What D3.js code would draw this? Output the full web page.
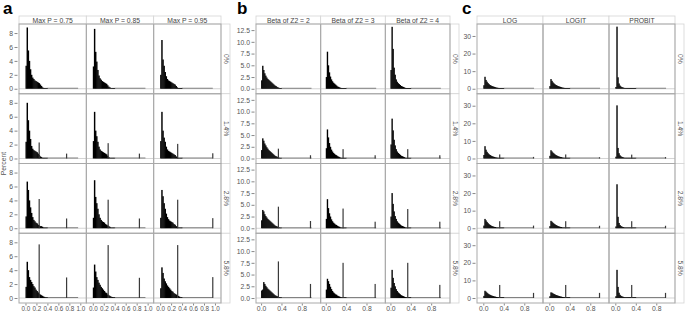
<!DOCTYPE html>
<html lang="en">
<head>
<meta charset="utf-8">
<title>Histograms</title>
<script src="https://cdn.jsdelivr.net/npm/d3@7"></script>
<style>
  html, body { margin: 0; padding: 0; background: #fff; }
  svg { font-family: "Liberation Sans", Arial, sans-serif; }
</style>
</head>
<body>
<script>
// ---- data ----
const rowLabels = ["0%", "1.4%", "2.8%", "5.8%"];
const colsA = ["Max P = 0.75", "Max P = 0.85", "Max P = 0.95"];
const colsB = ["Beta of Z2 = 2", "Beta of Z2 = 3", "Beta of Z2 = 4"];
const colsC = ["LOG", "LOGIT", "PROBIT"];
const binW = 0.02;

// bin heights (percent), bins of 0.02 starting at 0; [row][col]
const histA = [
  [[3.3, 8.8, 5.5, 4.0, 2.8, 2.0, 1.6, 1.4, 1.2, 1.1, 1.0, 0.9, 0.8, 0.6, 0.4, 0.2, 0.1, 0.05, 0.05, 0.05],
   [3.2, 8.6, 5.3, 3.9, 2.7, 1.9, 1.5, 1.3, 1.1, 1.0, 0.9, 0.8, 0.7, 0.5, 0.3, 0.2, 0.1, 0.05, 0.05, 0.05],
   [2.0, 7.0, 4.2, 3.3, 2.4, 1.8, 1.4, 1.2, 1.1, 1.0, 0.9, 0.8, 0.7, 0.6, 0.4, 0.2, 0.1, 0.05, 0.05, 0.05]],
  [[2.4, 8.0, 5.5, 4.0, 2.8, 1.8, 1.4, 1.2, 1.1, 1.0, 0.9, 0.7, 0.5, 0.3, 0.2, 0.1, 0.05, 0.05, 0.05, 0.05],
   [2.5, 6.7, 4.0, 3.2, 2.4, 1.7, 1.3, 1.1, 1.0, 0.9, 0.8, 0.7, 0.6, 0.4, 0.2, 0.1, 0.05, 0.05, 0.05, 0.05],
   [2.5, 6.7, 4.0, 3.0, 2.4, 1.7, 1.3, 1.1, 1.0, 0.9, 0.8, 0.7, 0.6, 0.5, 0.3, 0.2, 0.1, 0.05, 0.05, 0.05]],
  [[1.7, 6.7, 5.5, 4.0, 3.0, 2.2, 1.6, 1.2, 1.0, 0.8, 0.7, 0.5, 0.4, 0.3, 0.3, 0.2, 0.1, 0.05, 0.05, 0.05],
   [1.5, 6.9, 4.5, 3.6, 2.8, 2.0, 1.5, 1.2, 1.0, 0.9, 0.8, 0.6, 0.5, 0.4, 0.3, 0.2, 0.1, 0.05, 0.05, 0.05],
   [1.5, 5.5, 4.6, 3.6, 2.8, 2.1, 1.6, 1.3, 1.1, 1.0, 0.9, 0.8, 0.6, 0.5, 0.3, 0.2, 0.1, 0.05, 0.05, 0.05]],
  [[1.6, 5.2, 4.0, 3.0, 2.6, 2.3, 2.0, 1.7, 1.5, 1.2, 1.0, 0.8, 0.6, 0.5, 0.4, 0.3, 0.2, 0.15, 0.1, 0.1],
   [1.5, 4.8, 3.8, 3.0, 2.6, 2.2, 1.9, 1.6, 1.4, 1.2, 1.0, 0.8, 0.7, 0.5, 0.4, 0.3, 0.2, 0.15, 0.1, 0.1],
   [1.4, 4.4, 3.6, 2.8, 2.4, 2.1, 1.8, 1.6, 1.4, 1.2, 1.0, 0.9, 0.7, 0.6, 0.5, 0.4, 0.3, 0.2, 0.1, 0.1]]
];
const spikePosA = [[0.25, 0.75], [0.28, 0.85], [0.32, 0.96]];
const spikeHA = [
  [[0, 0], [0, 0], [0, 0]],
  [[2.3, 0.7], [2.2, 0.7], [2.1, 0.75]],
  [[4.2, 1.4], [4.1, 1.4], [4.1, 1.45]],
  [[7.7, 2.95], [7.6, 2.9], [7.6, 3.0]]
];

const histB = [
  [[1.8, 4.9, 4.0, 3.3, 2.8, 2.4, 2.1, 1.9, 1.7, 1.5, 1.3, 1.1, 0.9, 0.7, 0.6, 0.4, 0.3, 0.2, 0.1, 0.05],
   [2.5, 7.9, 5.0, 3.5, 2.6, 2.0, 1.6, 1.3, 1.1, 0.9, 0.7, 0.5, 0.4, 0.3, 0.2, 0.1, 0.05, 0.05, 0.05, 0.05],
   [4.0, 13.2, 8.5, 4.5, 3.0, 2.0, 1.5, 1.2, 1.0, 0.8, 0.6, 0.5, 0.4, 0.3, 0.2, 0.1, 0.05, 0.05, 0.05, 0.05]],
  [[1.8, 4.3, 3.8, 3.2, 2.8, 2.4, 2.1, 1.8, 1.6, 1.4, 1.2, 1.0, 0.8, 0.6, 0.5, 0.4, 0.3, 0.2, 0.1, 0.05],
   [2.2, 6.2, 4.5, 3.3, 2.5, 1.9, 1.5, 1.2, 1.0, 0.8, 0.7, 0.5, 0.4, 0.3, 0.2, 0.1, 0.05, 0.05, 0.05, 0.05],
   [3.0, 8.5, 6.0, 4.0, 2.8, 2.0, 1.5, 1.2, 1.0, 0.8, 0.6, 0.5, 0.4, 0.3, 0.2, 0.1, 0.05, 0.05, 0.05, 0.05]],
  [[1.7, 3.9, 3.6, 3.0, 2.6, 2.3, 2.0, 1.8, 1.6, 1.4, 1.2, 1.0, 0.8, 0.6, 0.5, 0.4, 0.3, 0.2, 0.1, 0.05],
   [2.0, 6.2, 4.3, 3.2, 2.5, 1.9, 1.5, 1.2, 1.0, 0.8, 0.7, 0.5, 0.4, 0.3, 0.2, 0.1, 0.05, 0.05, 0.05, 0.05],
   [2.5, 7.5, 5.2, 3.6, 2.6, 2.0, 1.5, 1.2, 1.0, 0.8, 0.6, 0.5, 0.4, 0.3, 0.2, 0.1, 0.05, 0.05, 0.05, 0.05]],
  [[1.6, 1.8, 3.4, 3.0, 2.6, 2.3, 2.0, 1.8, 1.6, 1.4, 1.2, 1.0, 0.8, 0.6, 0.5, 0.4, 0.3, 0.2, 0.1, 0.05],
   [1.8, 4.1, 3.6, 3.0, 2.4, 1.9, 1.5, 1.2, 1.0, 0.8, 0.7, 0.5, 0.4, 0.3, 0.2, 0.1, 0.05, 0.05, 0.05, 0.05],
   [2.2, 6.0, 4.3, 3.2, 2.5, 1.9, 1.5, 1.2, 1.0, 0.8, 0.6, 0.5, 0.4, 0.3, 0.2, 0.1, 0.05, 0.05, 0.05, 0.05]]
];
const spikePosB = [[0.34, 0.97], [0.34, 0.97], [0.34, 0.97]];
const spikeHB = [
  [[0, 0], [0, 0], [0, 0]],
  [[2.1, 0.7], [2.0, 0.7], [2.0, 0.7]],
  [[4.6, 1.55], [4.2, 1.4], [4.1, 1.4]],
  [[7.8, 3.0], [7.5, 3.0], [7.5, 2.8]]
];

const histC = [
  [[2.0, 6.8, 5.0, 4.0, 3.2, 2.6, 2.1, 1.8, 1.5, 1.3, 1.1, 0.9, 0.7, 0.6, 0.5, 0.4, 0.3, 0.2, 0.1, 0.05],
   [1.5, 5.5, 4.5, 3.6, 3.0, 2.5, 2.1, 1.8, 1.5, 1.3, 1.1, 0.9, 0.7, 0.6, 0.5, 0.4, 0.3, 0.2, 0.1, 0.05],
   [1.0, 35.3, 6.5, 3.0, 1.8, 1.2, 0.9, 0.7, 0.5, 0.4, 0.3, 0.2, 0.15, 0.1, 0.05, 0.05, 0.05, 0.05, 0.05, 0.05]],
  [[2.0, 7.0, 5.0, 3.8, 3.0, 2.4, 2.0, 1.6, 1.3, 1.1, 0.9, 0.7, 0.6, 0.5, 0.4, 0.3, 0.2, 0.1, 0.05, 0.05],
   [1.5, 4.7, 4.0, 3.3, 2.8, 2.3, 1.9, 1.6, 1.3, 1.1, 0.9, 0.8, 0.6, 0.5, 0.4, 0.3, 0.2, 0.1, 0.05, 0.05],
   [1.0, 30.2, 6.0, 3.0, 1.8, 1.2, 0.9, 0.7, 0.5, 0.4, 0.3, 0.2, 0.1, 0.05, 0.05, 0.05, 0.05, 0.05, 0.05, 0.05]],
  [[1.5, 5.3, 4.5, 3.6, 2.9, 2.3, 1.9, 1.5, 1.2, 1.0, 0.8, 0.7, 0.5, 0.4, 0.3, 0.2, 0.1, 0.1, 0.05, 0.05],
   [1.2, 4.2, 3.7, 3.1, 2.6, 2.2, 1.8, 1.5, 1.2, 1.0, 0.8, 0.7, 0.5, 0.4, 0.3, 0.2, 0.1, 0.1, 0.05, 0.05],
   [1.0, 25.0, 6.5, 3.0, 1.8, 1.2, 0.9, 0.7, 0.5, 0.4, 0.3, 0.2, 0.1, 0.05, 0.05, 0.05, 0.05, 0.05, 0.05, 0.05]],
  [[1.2, 4.1, 3.6, 3.0, 2.5, 2.1, 1.8, 1.5, 1.3, 1.1, 0.9, 0.8, 0.6, 0.5, 0.4, 0.3, 0.2, 0.1, 0.1, 0.05],
   [1.0, 3.2, 3.0, 2.6, 2.3, 2.0, 1.7, 1.5, 1.3, 1.1, 0.9, 0.8, 0.6, 0.5, 0.4, 0.3, 0.2, 0.1, 0.1, 0.05],
   [1.0, 16.0, 6.3, 3.0, 1.8, 1.2, 0.9, 0.7, 0.5, 0.4, 0.3, 0.2, 0.1, 0.05, 0.05, 0.05, 0.05, 0.05, 0.05, 0.05]]
];
const spikePosC = [[0.32, 0.98], [0.32, 0.98], [0.32, 0.98]];
const spikeHC = [
  [[0, 0], [0, 0], [0, 0]],
  [[2.3, 0.9], [2.3, 0.7], [2.2, 0.8]],
  [[4.0, 1.5], [4.0, 1.4], [4.0, 1.4]],
  [[7.4, 2.9], [7.4, 2.9], [7.4, 2.9]]
];

const tailEnd = [0.96, 0.99, 0.99];
const yTicksA = [0, 2, 4, 6, 8];
const yTicksB = [0, 2.5, 5, 7.5, 10, 12.5];
const yTicksC = [0, 10, 20, 30];
const xTicksA = [0, 0.2, 0.4, 0.6, 0.8, 1.0];
const xTicksBC = [0, 0.4, 0.8];

// ---- layout ----
const W = 685, H = 315;
const plotTop = 24, plotBottom = 303;
const rowH = (plotBottom - plotTop) / 4;
const frameCol = "#a9a9a9", textCol = "#555";
const fontFam = "Liberation Sans, Arial, sans-serif";

const svg = d3.select("body").append("svg")
  .attr("width", W).attr("height", H);

const panels = [
  { letter: "a", letterX: 3, left: 19, right: 221, cols: colsA, hist: histA,
    spikePos: spikePosA, spikeH: spikeHA, tail: tailEnd[0], xFont: 6.3,
    xDomain: [-0.118, 1.11], yDomain: [-0.72, 9.3], yTicks: yTicksA, yFmt: d3.format("d"), xTicks: xTicksA },
  { letter: "b", letterX: 237, left: 256, right: 450, cols: colsB, hist: histB,
    spikePos: spikePosB, spikeH: spikeHB, tail: tailEnd[1], xFont: 6.8,
    xDomain: [-0.1, 1.17], yDomain: [-1.06, 13.8], yTicks: yTicksB, yFmt: d3.format(".1f"), xTicks: xTicksBC },
  { letter: "c", letterX: 462, left: 477, right: 675, cols: colsC, hist: histC,
    spikePos: spikePosC, spikeH: spikeHC, tail: tailEnd[2], xFont: 6.8,
    xDomain: [-0.123, 1.165], yDomain: [-2.85, 36.8], yTicks: yTicksC, yFmt: d3.format("d"), xTicks: xTicksBC }
];

panels.forEach(p => {
  const g = svg.append("g");
  const colW = (p.right - p.left) / 3;

  g.append("text")
    .attr("x", p.letterX).attr("y", 14)
    .attr("font-size", 17).attr("font-weight", "bold")
    .attr("fill", "#000")
    .text(p.letter);

  // row strips on the right
  rowLabels.forEach((lab, r) => {
    const y0 = plotTop + r * rowH;
    g.append("rect")
      .attr("x", p.right).attr("y", y0)
      .attr("width", 9).attr("height", rowH)
      .attr("fill", "#fff").attr("stroke", "#d4d4d4").attr("stroke-width", 0.8);
    g.append("text")
      .attr("transform", `translate(${p.right + 2.5},${y0 + rowH / 2}) rotate(90)`)
      .attr("text-anchor", "middle")
      .attr("font-size", 6.8).attr("fill", textCol)
      .text(lab);
  });

  p.cols.forEach((name, c) => {
    const x0 = p.left + c * colW;
    const x = d3.scaleLinear().domain(p.xDomain).range([x0, x0 + colW]);

    // header strip
    g.append("rect")
      .attr("x", x0).attr("y", 16)
      .attr("width", colW).attr("height", plotTop - 16)
      .attr("fill", "#fff").attr("stroke", "#d4d4d4").attr("stroke-width", 0.8);
    g.append("text")
      .attr("x", x0 + colW / 2).attr("y", 22.5)
      .attr("text-anchor", "middle")
      .attr("font-size", 6.8).attr("fill", "#444")
      .text(name);

    rowLabels.forEach((lab, r) => {
      const y0 = plotTop + r * rowH;
      const y = d3.scaleLinear().domain(p.yDomain).range([y0 + rowH, y0]);
      const cell = g.append("g");
      const vals = p.hist[r][c];

      // zero reference line
      cell.append("line")
        .attr("x1", x0).attr("x2", x0 + colW)
        .attr("y1", y(0)).attr("y2", y(0))
        .attr("stroke", "#c8c8c8").attr("stroke-width", 0.8);

      // tail of very small bins
      cell.append("rect")
        .attr("x", x(vals.length * binW))
        .attr("width", x(p.tail) - x(vals.length * binW))
        .attr("y", y(0) - 1).attr("height", 1)
        .attr("fill", "#808080");

      // body bins
      cell.selectAll("rect.bin").data(vals).enter().append("rect")
        .attr("class", "bin")
        .attr("x", (d, i) => x(i * binW))
        .attr("width", x(binW) - x(0) + 0.35)
        .attr("y", d => Math.min(y(d), y(0) - 0.8))
        .attr("height", d => Math.max(y(0) - y(d), 0.8))
        .attr("fill", "#000");

      // spikes
      const sp = p.spikePos[c].map((pos, k) => ({ pos: pos, h: p.spikeH[r][c][k] }))
        .filter(d => d.h > 0);
      cell.selectAll("rect.spike").data(sp).enter().append("rect")
        .attr("class", "spike")
        .attr("x", d => x(d.pos) - 0.6)
        .attr("width", 1.2)
        .attr("y", d => y(d.h))
        .attr("height", d => y(0) - y(d.h))
        .attr("fill", "#3a3a3a");

      // frame
      cell.append("rect")
        .attr("x", x0).attr("y", y0)
        .attr("width", colW).attr("height", rowH)
        .attr("fill", "none").attr("stroke", frameCol).attr("stroke-width", 1);

      // y axis on first column
      if (c === 0) {
        const ax = g.append("g")
          .attr("transform", `translate(${p.left - 1.5},0)`)
          .call(d3.axisLeft(y).tickValues(p.yTicks).tickFormat(p.yFmt).tickSize(3).tickPadding(1.5));
        ax.select(".domain").remove();
        ax.selectAll("line").attr("stroke", "#888");
        ax.selectAll("text").attr("font-size", 6.8).attr("fill", textCol)
          .attr("font-family", fontFam);
      }
    });

    // x axis
    const xa = g.append("g")
      .attr("transform", `translate(0,${plotBottom + 0.5})`)
      .call(d3.axisBottom(x).tickValues(p.xTicks).tickFormat(d3.format(".1f")).tickSize(2).tickPadding(1));
    xa.select(".domain").remove();
    xa.selectAll("line").attr("stroke", "#888");
    xa.selectAll("text").attr("font-size", p.xFont).attr("fill", textCol)
      .attr("font-family", fontFam);
  });
});

svg.append("text")
  .attr("transform", `translate(6,${(plotTop + plotBottom) / 2}) rotate(-90)`)
  .attr("text-anchor", "middle")
  .attr("font-size", 6.8).attr("fill", textCol)
  .text("Percent");
</script>
</body>
</html>
